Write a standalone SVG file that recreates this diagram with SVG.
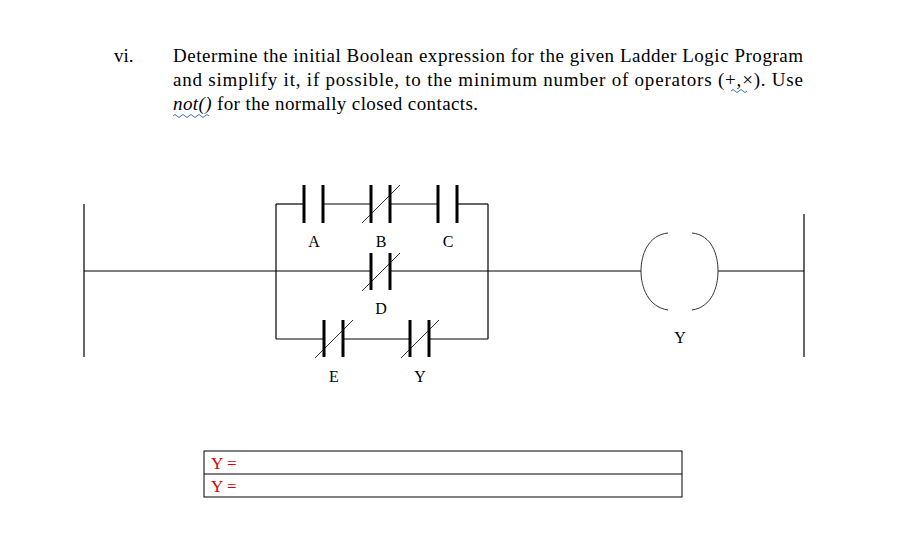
<svg xmlns="http://www.w3.org/2000/svg" width="910" height="558" viewBox="0 0 910 558">
<style>
.t{font-family:"Liberation Serif",serif;font-size:19px;fill:#000}
.l{font-family:"Liberation Serif",serif;font-size:16px;fill:#000;text-anchor:middle}
.w{stroke:#000;stroke-width:1.2;fill:none}
.b{stroke:#000;stroke-width:3;fill:none}
.s{stroke:#000;stroke-width:0.8;fill:none}
</style>
<rect width="910" height="558" fill="#fff"/>
<g id="question">
<text class="t" x="114" y="62">vi.</text>
<text class="t" x="173" y="62" textLength="630" lengthAdjust="spacing">Determine the initial Boolean expression for the given Ladder Logic Program</text>
<text class="t" x="173" y="86" textLength="630" lengthAdjust="spacing">and simplify it, if possible, to the minimum number of operators (+,×). Use</text>
<text class="t" x="173" y="110" textLength="305" lengthAdjust="spacing"><tspan font-style="italic">not()</tspan> for the normally closed contacts.</text>
<path d="M173 116 q2 -3 4 0 t4 0 t4 0 t4 0 t4 0 t4 0 t4 0 t4 0 t4 0" stroke="#4472c4" stroke-width="1" fill="none"/>
<path d="M731 91 q2 -3 4 0 t4 0 t4 0 t4 0" stroke="#4472c4" stroke-width="1" fill="none"/>
</g>
<g id="connectors">
<line class="w" x1="84" y1="204" x2="84" y2="357"/>
<line class="w" x1="804" y1="214" x2="804" y2="357"/>
<line class="w" x1="84" y1="271" x2="276" y2="271"/>
<line class="w" x1="276" y1="204" x2="276" y2="339"/>
<line class="w" x1="488" y1="204" x2="488" y2="339"/>
<line class="w" x1="276" y1="271" x2="371" y2="271"/>
<line class="w" x1="390" y1="271" x2="641" y2="271"/>
<line class="w" x1="718" y1="271" x2="804" y2="271"/>
<line class="w" x1="276" y1="204" x2="304" y2="204"/>
<line class="w" x1="323" y1="204" x2="371" y2="204"/>
<line class="w" x1="390" y1="204" x2="438" y2="204"/>
<line class="w" x1="457" y1="204" x2="488" y2="204"/>
<line class="w" x1="276" y1="339" x2="324" y2="339"/>
<line class="w" x1="343" y1="339" x2="410" y2="339"/>
<line class="w" x1="429" y1="339" x2="488" y2="339"/>
</g>
<g id="A"><line class="b" x1="304" y1="185" x2="304" y2="223"/><line class="b" x1="323" y1="185" x2="323" y2="223"/><text class="l" x="314" y="247">A</text></g>
<g id="B"><line class="b" x1="371" y1="185" x2="371" y2="223"/><line class="b" x1="390" y1="185" x2="390" y2="223"/><line class="s" x1="362" y1="223" x2="400" y2="185"/><text class="l" x="381" y="247">B</text></g>
<g id="C"><line class="b" x1="438" y1="185" x2="438" y2="223"/><line class="b" x1="457" y1="185" x2="457" y2="223"/><text class="l" x="448" y="247">C</text></g>
<g id="D"><line class="b" x1="371" y1="253" x2="371" y2="290"/><line class="b" x1="390" y1="253" x2="390" y2="290"/><line class="s" x1="362" y1="291" x2="400" y2="253"/><text class="l" x="381" y="314">D</text></g>
<g id="E"><line class="b" x1="324" y1="320" x2="324" y2="357"/><line class="b" x1="343" y1="320" x2="343" y2="357"/><line class="s" x1="315" y1="358" x2="353" y2="320"/><text class="l" x="334" y="382">E</text></g>
<g id="Ycontact"><line class="b" x1="410" y1="320" x2="410" y2="357"/><line class="b" x1="429" y1="320" x2="429" y2="357"/><line class="s" x1="401" y1="358" x2="439" y2="320"/><text class="l" x="420" y="382">Y</text></g>
<g id="coil">
<path d="M668 233 C648 235 641 255 641 271 C641 287 648 307 668 310" stroke="#333" stroke-width="1" fill="none"/>
<path d="M692 233 C712 235 718 255 718 271 C718 287 712 307 692 310" stroke="#333" stroke-width="1" fill="none"/>
<text class="l" x="680" y="343">Y</text>
</g>
<g id="answers">
<rect x="204" y="451" width="478" height="46" fill="none" stroke="#000" stroke-width="1"/>
<line x1="204" y1="474" x2="682" y2="474" stroke="#000" stroke-width="1"/>
<text x="211" y="469" font-family="Liberation Serif,serif" font-size="17" fill="#e00000">Y =</text>
<text x="211" y="492" font-family="Liberation Serif,serif" font-size="17" fill="#e00000">Y =</text>
</g>
</svg>
